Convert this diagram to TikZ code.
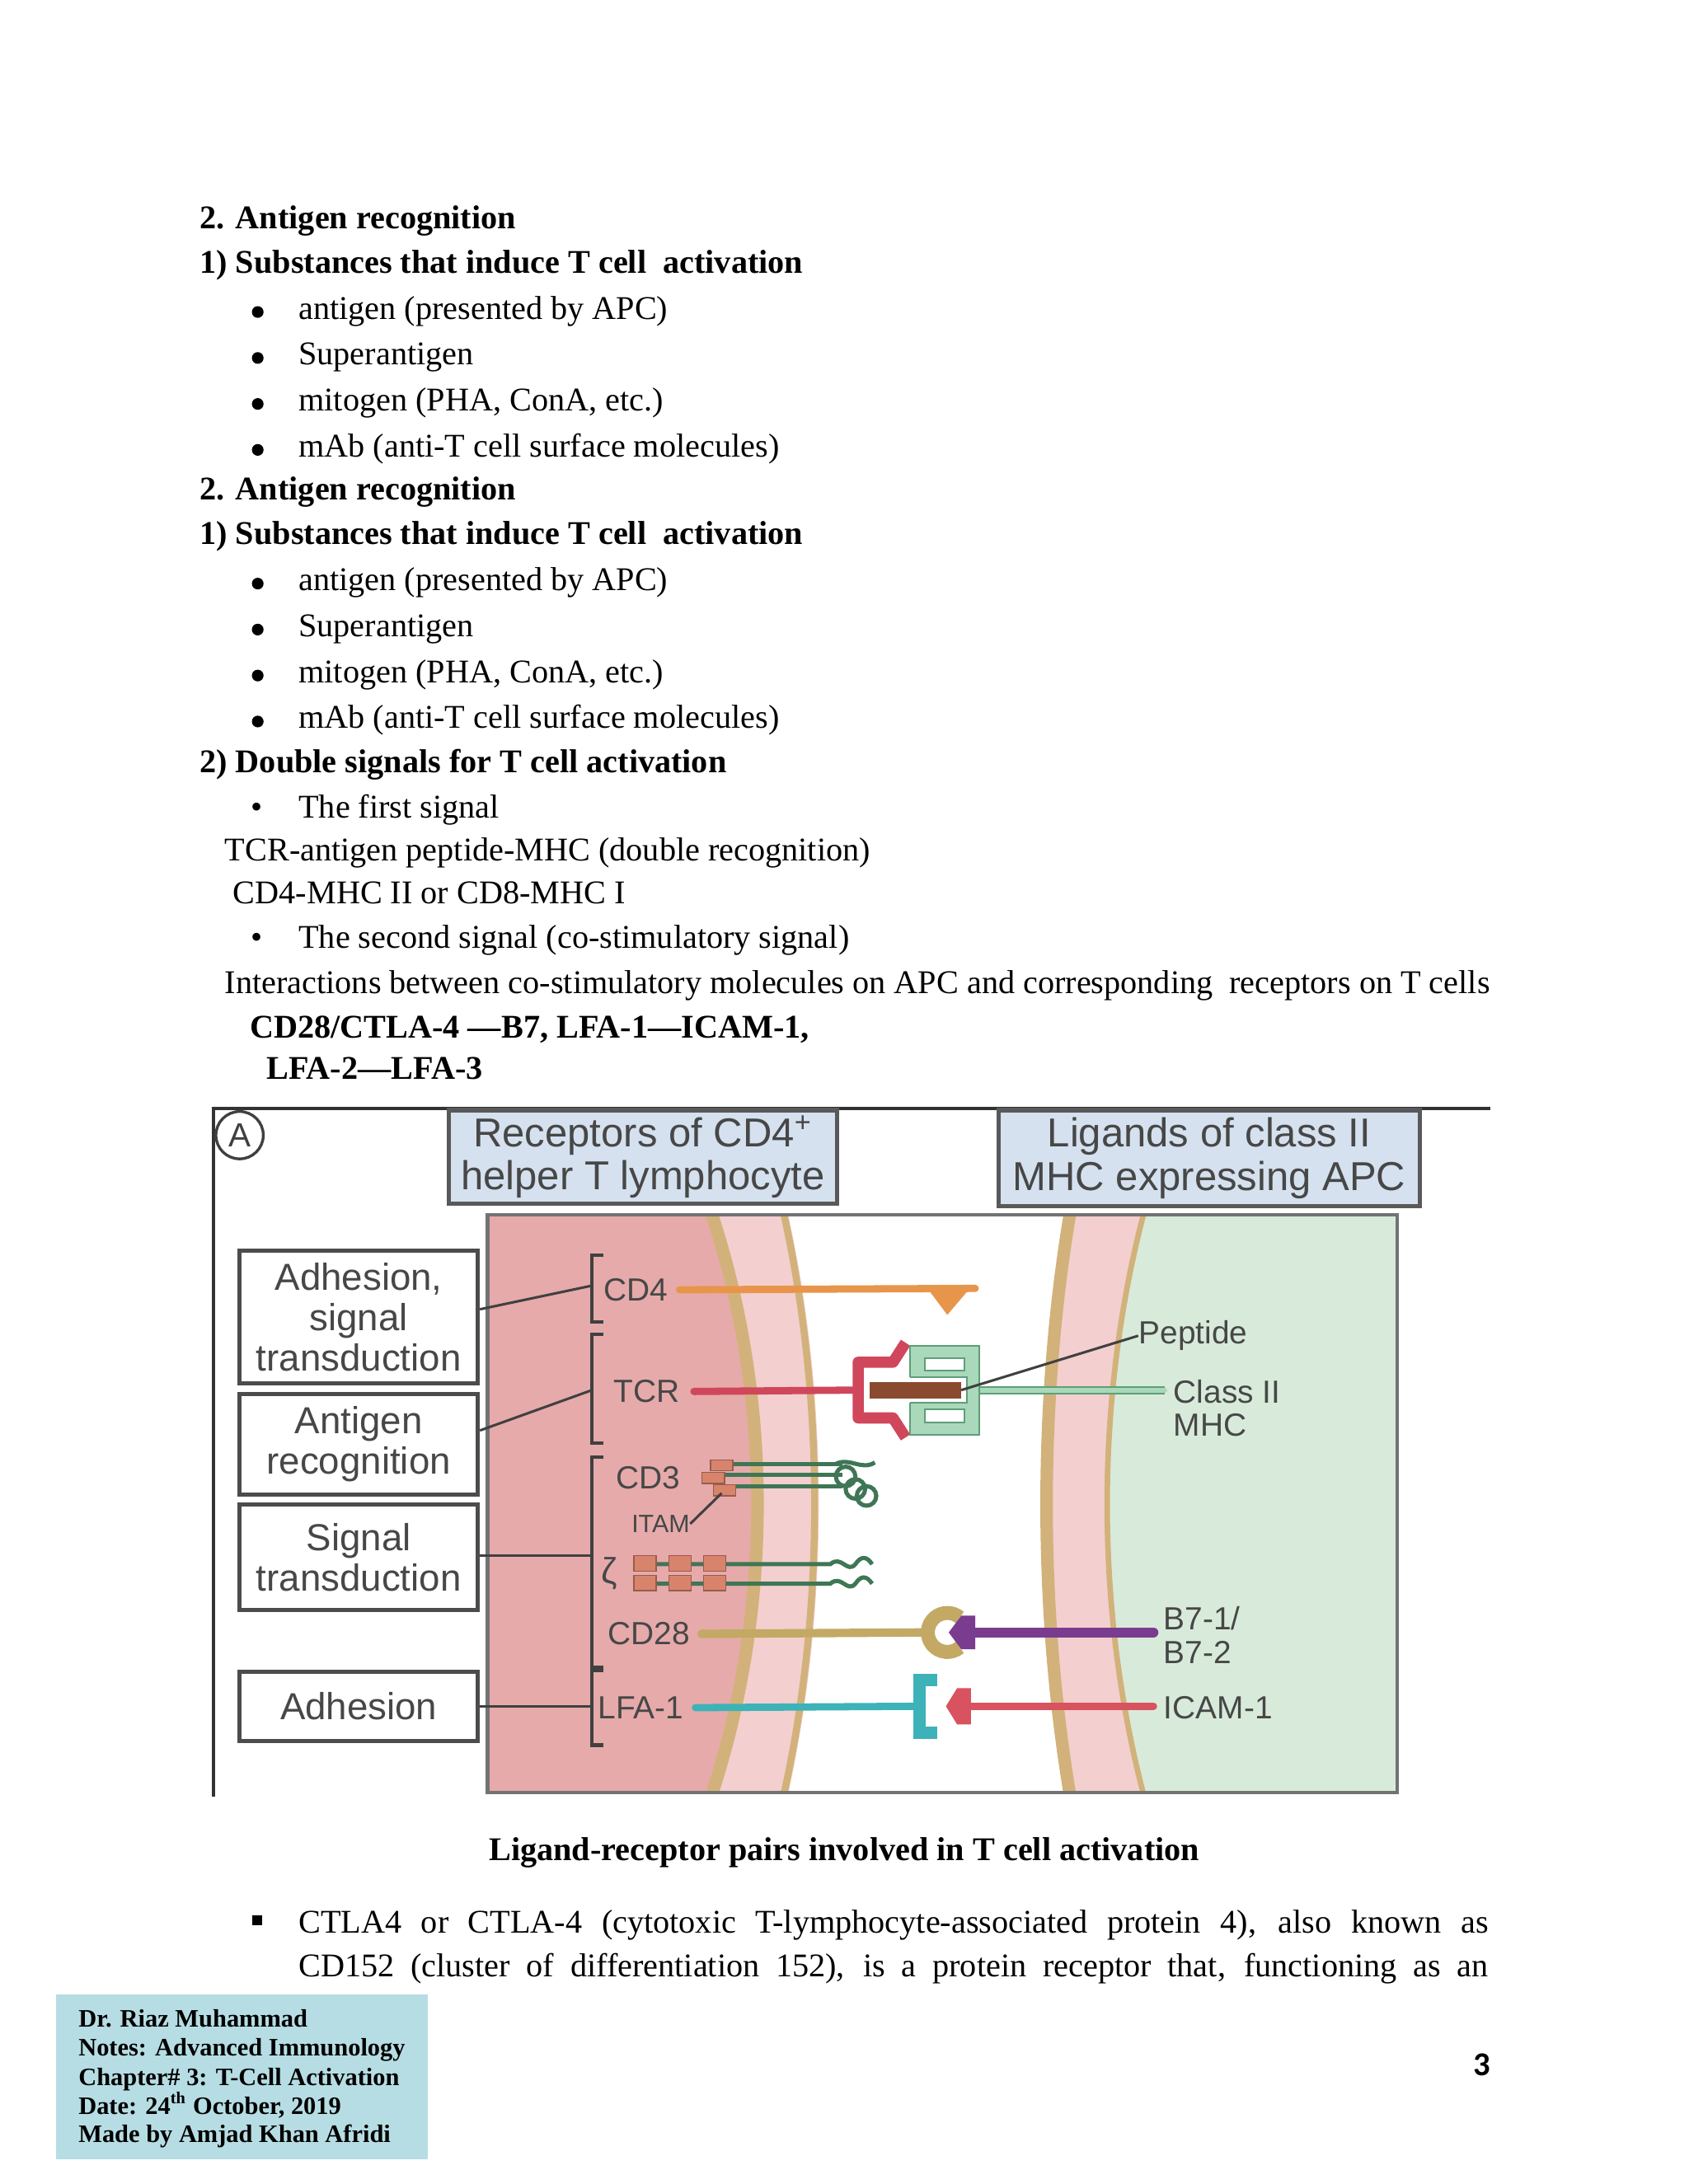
\documentclass[tikz,border=0pt]{standalone}
\usepackage{fontspec}
\setmainfont{Liberation Serif}
\newfontfamily\figfont{Liberation Sans}
\newfontfamily\numfont{Carlito}
\begin{document}
\begin{tikzpicture}[x=0.5pt,y=-0.5pt,
  body/.style={anchor=base west,inner sep=0,font=\fontsize{11.9}{14}\selectfont},
  bodyb/.style={body,font=\fontsize{11.9}{14}\selectfont\bfseries},
  hdr/.style={draw=black!65,line width=1.5pt,fill=hdrblue,inner sep=0,text=black!72,font=\figfont\fontsize{14.5}{15.5}\selectfont,align=center},
  fbox/.style={draw=black!70,line width=1.5pt,fill=white,inner sep=0,text=black!72,font=\figfont\fontsize{13.5}{14.5}\selectfont,align=center},
  mlab/.style={anchor=west,inner sep=0,text=black!72,font=\figfont\fontsize{11.5}{12}\selectfont},
  brk/.style={draw=black!75,line width=1.3pt},
  lead/.style={draw=black!75,line width=0.9pt},
  foot/.style={anchor=base west,inner sep=0,font=\fontsize{9}{10}\selectfont\bfseries}]
\definecolor{hdrblue}{HTML}{D5E1EE}
\definecolor{cytopink}{HTML}{E6AAAA}
\definecolor{lpink}{HTML}{F3CFCF}
\definecolor{tan}{HTML}{D2B27A}
\definecolor{apcgreen}{HTML}{D8EBDA}
\definecolor{orangeM}{HTML}{E8954C}
\definecolor{redM}{HTML}{D0475C}
\definecolor{mhcG}{HTML}{A9D9BA}
\definecolor{mhcD}{HTML}{5E9E78}
\definecolor{brownP}{HTML}{8A4A30}
\definecolor{cd3G}{HTML}{3F7656}
\definecolor{itam}{HTML}{D8846C}
\definecolor{cd28}{HTML}{C3A964}
\definecolor{purpleM}{HTML}{7A3C8E}
\definecolor{tealM}{HTML}{3DB2B8}
\definecolor{icam}{HTML}{D8535F}
\definecolor{footblue}{HTML}{B6DDE3}
\useasboundingbox (0,0) rectangle (1212,1568);
\fill[white] (0,0) rectangle (1212,1568);
% ---------- text ----------
\node[bodyb] (t1) at (143,164) {2. Antigen recognition};
\node[bodyb] (t2) at (143,196) {1) Substances that induce T cell\ \ activation};
\foreach \yy/\tx [count=\i] in {229/antigen (presented by APC),262/Superantigen,295/{mitogen (PHA, ConA, etc.)},328/mAb (anti-T cell surface molecules),424/antigen (presented by APC),457/Superantigen,490/{mitogen (PHA, ConA, etc.)},523/mAb (anti-T cell surface molecules)}{
  \fill (185,\yy-5) circle (4.2);
  \node[body] (bt\i) at (214,\yy) {\tx};}
\node[bodyb] (t3) at (143,359) {2. Antigen recognition};
\node[bodyb] (t4) at (143,391) {1) Substances that induce T cell\ \ activation};
\node[bodyb] (t5) at (143,555) {2) Double signals for T cell activation};
\node[body] (s1b) at (180,587) {•};
\node[body] (s1) at (214,587) {The first signal};
\node[body] (s2) at (161,618) {TCR-antigen peptide-MHC (double recognition)};
\node[body] (s3) at (167,649) {CD4-MHC II or CD8-MHC I};
\node[body] (s4b) at (180,681) {•};
\node[body] (s4) at (214,681) {The second signal (co-stimulatory signal)};
\node[body] (s5) at (161,713) {Interactions between co-stimulatory molecules on APC and corresponding\ \ receptors on T cells};
\node[bodyb] (s6) at (179,745) {CD28/CTLA-4 —B7, LFA-1—ICAM-1,};
\node[bodyb] (s7) at (191,775) {LFA-2—LFA-3};
% ---------- figure frame ----------
\draw[black!80,line width=1.2pt] (153,1290) -- (153,796) -- (1070,796);
\node[draw=black!75,line width=1pt,circle,minimum size=17pt,inner sep=0,font=\figfont\fontsize{12}{12}\selectfont,text=black!75] (A) at (172,815) {A};
\node[hdr,minimum width=139.5pt,minimum height=33.5pt] (h1) at (461.5,830.5) {Receptors of CD4\textsuperscript{+}\\helper T lymphocyte};
\node[hdr,minimum width=151pt,minimum height=34.5pt] (h2) at (868,831.5) {Ligands of class II\\MHC expressing APC};
% cells
\begin{scope}
\clip (350,872) rectangle (1003,1287);
\fill[white] (350,872) rectangle (1003,1287);
\fill[cytopink] (340,860) -- (503,860) .. controls (552,1000) and (552,1160) .. (503,1300) -- (340,1300) -- cycle;
\fill[lpink] (503,860) .. controls (552,1000) and (552,1160) .. (503,1300) -- (563,1300) .. controls (596,1160) and (596,1000) .. (563,860) -- cycle;
\draw[tan,line width=4.5pt] (507,860) .. controls (556,1000) and (556,1160) .. (507,1300);
\draw[tan,line width=2.5pt] (560,860) .. controls (593,1000) and (593,1160) .. (560,1300);
\fill[lpink] (767,860) .. controls (742,1000) and (742,1160) .. (767,1300) -- (825,1300) .. controls (786,1160) and (786,1000) .. (825,860) -- cycle;
\fill[apcgreen] (825,860) .. controls (786,1000) and (786,1160) .. (825,1300) -- (1010,1300) -- (1010,860) -- cycle;
\draw[tan,line width=4.5pt] (770,860) .. controls (745,1000) and (745,1160) .. (770,1300);
\draw[tan,line width=2pt] (824,860) .. controls (785,1000) and (785,1160) .. (824,1300);
\end{scope}
\draw[black!55,line width=1.3pt] (350,872) rectangle (1003,1287);
% left function boxes
\node[fbox,minimum width=85.5pt,minimum height=47.5pt] (f1) at (257.5,945.5) {Adhesion,\\signal\\transduction};
\node[fbox,minimum width=85.5pt,minimum height=36pt] (f2) at (257.5,1037) {Antigen\\recognition};
\node[fbox,minimum width=85.5pt,minimum height=38pt] (f3) at (257.5,1118) {Signal\\transduction};
\node[fbox,minimum width=85.5pt,minimum height=25pt] (f4) at (257.5,1225) {Adhesion};
% brackets
\coordinate (b1) at (425,923); \coordinate (b2) at (425,998);
\coordinate (b3) at (425,1117); \coordinate (b4) at (425,1225);
\draw[brk] (433,901) -- (425,901) -- (425,949) -- (433,949);
\draw[brk] (433,958) -- (425,958) -- (425,1036) -- (433,1036);
\draw[brk] (433,1046) -- (425,1046) -- (425,1197) -- (433,1197);
\draw[brk] (433,1199) -- (425,1199) -- (425,1253) -- (433,1253);
\draw[lead] (f1.east |- 0,940) -- (b1);
\draw[lead] (f2.east |- 0,1027) -- (b2);
\draw[lead] (f3.east |- 0,1117) -- (b3);
\draw[lead] (f4.east) -- (b4);
% labels
\node[mlab] (lcd4) at (433,926) {CD4};
\node[mlab] (ltcr) at (440,999) {TCR};
\node[mlab] (lcd3) at (442,1061) {CD3};
\node[mlab,font=\figfont\fontsize{9}{9}\selectfont] (litam) at (453,1094) {ITAM};
\node[mlab,font=\figfont\fontsize{13}{13}\selectfont] (lzeta) at (431,1130) {ζ};
\node[mlab] (lcd28) at (436,1173) {CD28};
\node[mlab] (llfa) at (429,1226) {LFA-1};
\node[mlab] (lpep) at (817,959) {Peptide};
\node[mlab,align=left] (lmhc) at (842,1011) {Class II\\MHC};
\node[mlab,align=left] (lb7) at (835,1174) {B7-1/\\B7-2};
\node[mlab] (licam) at (835,1226) {ICAM-1};
% CD4
\draw[orangeM,line width=2.6pt,line cap=round] (lcd4.east)++(8,0) -- (700,925);
\fill[orangeM] (665,924) -- (697,924) -- (680,944) -- cycle;
% TCR + MHC
\draw[redM,line width=2.6pt,line cap=round] (ltcr.east)++(10,0) -- (614,998);
\draw[redM,line width=4pt,line join=round] (650,964) -- (641,978) -- (616,978) -- (616,1018) -- (641,1018) -- (650,1032);
\draw[mhcD,line width=3pt] (703,998) -- (836,998);
\draw[mhcG,line width=1.8pt,line cap=round] (703,998) -- (836,998);
\fill[mhcG,draw=mhcD,line width=0.6pt] (653,966) rectangle (703,1030);
\fill[white,draw=mhcD,line width=0.6pt] (664,975) rectangle (692,984);
\fill[white,draw=mhcD,line width=0.6pt] (664,1012) rectangle (692,1021);
\fill[white] (652,989) rectangle (694,1007);
\draw[mhcD,line width=0.6pt] (653,989) -- (694,989) -- (694,1007) -- (653,1007);
\fill[brownP] (624,992) rectangle (690,1004);
\draw[lead] (690,998) -- (lpep.west);
% CD3
\foreach \yy in {1051,1059,1067}{\draw[cd3G,line width=1.5pt] (512,\yy) -- (605,\yy);}
\foreach \cx/\cy in {607/1060,614/1069,622/1074}{\draw[cd3G,line width=1.5pt] (\cx,\cy) circle (7);}
\draw[cd3G,line width=1.5pt] (600,1051) .. controls (610,1046) and (618,1056) .. (628,1050);
\foreach \bx/\by in {510/1048,504/1057,512/1066}{\fill[itam,draw=itam!70!black,line width=0.4pt] (\bx,\by) rectangle ++(16,8);}
\draw[lead] (litam.east) -- (518,1072);
% zeta
\foreach \yy in {1123,1137}{\draw[cd3G,line width=1.5pt] (455,\yy) -- (596,\yy) .. controls (604,\yy-7) and (608,\yy+7) .. (614,\yy) .. controls (618,\yy-6) and (622,\yy-6) .. (626,\yy);}
\foreach \bx in {455,480,505}{\fill[itam,draw=itam!70!black,line width=0.4pt] (\bx,1117) rectangle ++(16,11); \fill[itam,draw=itam!70!black,line width=0.4pt] (\bx,1131) rectangle ++(16,11);}
% CD28 / B7
\draw[cd28,line width=3pt,line cap=round] (lcd28.east)++(8,0) -- (662,1172);
\draw[cd28,line width=5pt] (680,1172) ++(50:14) arc (50:310:14);
\draw[purpleM,line width=3.5pt,line cap=round] (828,1172) -- (696,1172);
\fill[purpleM] (700,1160) -- (700,1184) -- (690,1184) -- (681,1172) -- (690,1160) -- cycle;
% LFA-1 / ICAM-1
\draw[tealM,line width=2.6pt,line cap=round] (llfa.east)++(8,0) -- (658,1225);
\draw[tealM,line width=4.5pt] (673,1206) -- (660,1206) -- (660,1244) -- (673,1244);
\draw[icam,line width=2.6pt,line cap=round] (828,1225) -- (694,1225);
\fill[icam] (697,1212) -- (697,1238) -- (687,1238) -- (679,1225) -- (687,1212) -- cycle;
% caption
\node[bodyb,anchor=base] (cap) at (606,1336) {Ligand-receptor pairs involved in T cell activation};
% paragraph
\fill (181,1375) rectangle ++(7,7);
\node[body] (p1) at (214,1388) {\makebox[427pt][s]{CTLA4 or CTLA-4 (cytotoxic T-lymphocyte-associated protein 4), also known as}};
\node[body] (p2) at (214,1419) {\makebox[427pt][s]{CD152 (cluster of differentiation 152), is a protein receptor that, functioning as an}};
% footer
\fill[footblue] (40,1432) rectangle (307,1550);
\node[foot] (fa) at (56,1455) {Dr. Riaz Muhammad};
\node[foot] (fb) at (56,1476) {Notes: Advanced Immunology};
\node[foot] (fc) at (56,1497) {Chapter\# 3: T-Cell Activation};
\node[foot] (fd) at (56,1518) {Date: 24\textsuperscript{th} October, 2019};
\node[foot] (fe) at (56,1538) {Made by Amjad Khan Afridi};
\node[anchor=base,inner sep=0,font=\numfont\bfseries\fontsize{12}{12}\selectfont] (pg) at (1064,1490) {3};
\end{tikzpicture}
\end{document}
